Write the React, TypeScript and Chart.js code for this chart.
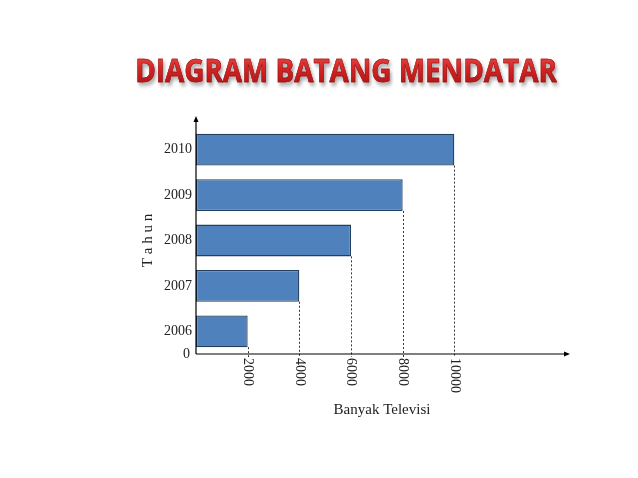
import { useEffect, useRef } from 'react';
import { Chart, registerables } from 'chart.js';

Chart.register(...registerables);

// ---- data ----
const years = ['2006', '2007', '2008', '2009', '2010'];
const televisions = [2000, 4000, 6000, 8000, 10000];
const xTickValues = [2000, 4000, 6000, 8000, 10000];
const originLabel = '0';
const xAxisMax = 14400;
const chartTitle = 'DIAGRAM BATANG MENDATAR';
const xTitle = 'Banyak Televisi';
const yTitle = 'T a h u n';

const SERIF = '"Liberation Serif", "DejaVu Serif", serif';

const decorPlugin = {
  id: 'decor',
  afterDatasetsDraw(chart: any) {
    const { ctx, chartArea } = chart;
    const xScale = chart.scales.x;
    const left = chartArea.left;
    const bottom = chartArea.bottom;
    ctx.save();

    // dashed guides from bar ends down to the axis
    const meta = chart.getDatasetMeta(0);
    ctx.strokeStyle = '#333';
    ctx.lineWidth = 1;
    ctx.setLineDash([2, 2]);
    meta.data.forEach((bar: any) => {
      const x = Math.round(bar.x) + 0.5;
      ctx.beginPath();
      ctx.moveTo(x, bar.y + bar.height / 2);
      ctx.lineTo(x, bottom + 3);
      ctx.stroke();
    });
    ctx.setLineDash([]);

    // axes with arrowheads
    ctx.strokeStyle = '#000';
    ctx.fillStyle = '#000';
    ctx.lineWidth = 1.2;
    const topY = chartArea.top - 11;
    const rightX = chartArea.right + 2;
    ctx.beginPath();
    ctx.moveTo(left, bottom);
    ctx.lineTo(left, topY + 4);
    ctx.moveTo(left, bottom);
    ctx.lineTo(rightX - 4, bottom);
    ctx.stroke();
    ctx.beginPath();
    ctx.moveTo(left, topY);
    ctx.lineTo(left - 2.5, topY + 6);
    ctx.lineTo(left + 2.5, topY + 6);
    ctx.closePath();
    ctx.fill();
    ctx.beginPath();
    ctx.moveTo(rightX, bottom);
    ctx.lineTo(rightX - 6, bottom - 2.5);
    ctx.lineTo(rightX - 6, bottom + 2.5);
    ctx.closePath();
    ctx.fill();

    // rotated x tick labels (reading top to bottom)
    ctx.fillStyle = '#222';
    ctx.font = `14px ${SERIF}`;
    ctx.textAlign = 'left';
    ctx.textBaseline = 'middle';
    xScale.ticks.forEach((t: any) => {
      const px = xScale.getPixelForValue(t.value);
      ctx.save();
      ctx.translate(px, bottom + 4);
      ctx.rotate(Math.PI / 2);
      ctx.fillText(String(t.value), 0, 0);
      ctx.restore();
    });

    // origin label
    ctx.textAlign = 'right';
    ctx.textBaseline = 'middle';
    ctx.fillText(originLabel, left - 6, bottom);
    ctx.restore();
  },
};

export default function App() {
  const canvasRef = useRef<HTMLCanvasElement | null>(null);

  useEffect(() => {
    if (!canvasRef.current) return;
    const chart = new Chart(canvasRef.current, {
      type: 'bar',
      data: {
        labels: years,
        datasets: [
          {
            data: televisions,
            backgroundColor: '#4f81bd',
            borderColor: '#24405f',
            borderWidth: 1.3,
            borderSkipped: false,
            barPercentage: 0.7,
            categoryPercentage: 1,
          },
        ],
      },
      options: {
        indexAxis: 'y',
        responsive: false,
        animation: false,
        devicePixelRatio: 1,
        layout: { padding: { left: 138, top: 127, right: 70, bottom: 54 } },
        plugins: {
          legend: { display: false },
          tooltip: { enabled: false },
          title: { display: false },
        },
        scales: {
          x: {
            type: 'linear',
            min: 0,
            max: xAxisMax,
            grid: { display: false },
            border: { display: false },
            ticks: { display: false },
            afterBuildTicks: (scale: any) => {
              scale.ticks = xTickValues.map((v) => ({ value: v }));
            },
            afterFit: (scale: any) => {
              scale.height = 70;
            },
            title: {
              display: true,
              text: xTitle,
              color: '#222',
              font: { family: SERIF, size: 15 },
              padding: { top: 0, bottom: 5 },
            },
          },
          y: {
            type: 'category',
            reverse: true,
            grid: { display: false, drawTicks: false },
            border: { display: false },
            ticks: {
              color: '#222',
              font: { family: SERIF, size: 14 },
              padding: 4,
            },
            afterFit: (scale: any) => {
              scale.width = 58;
            },
            title: {
              display: true,
              text: yTitle,
              color: '#222',
              font: { family: SERIF, size: 15 },
              padding: { top: 1, bottom: 0 },
            },
          },
        },
      },
      plugins: [decorPlugin],
    });
    return () => chart.destroy();
  }, []);

  return (
    <div
      style={{
        position: 'fixed',
        left: 0,
        top: 0,
        width: 638,
        height: 478,
        background: '#fff',
        overflow: 'hidden',
      }}
    >
      <canvas ref={canvasRef} width={638} height={478} style={{ position: 'absolute', left: 0, top: 0 }} />
      <div
        style={{
          position: 'absolute',
          left: 346,
          top: 54,
          transform: 'translateX(-50%) scaleX(0.87)',
          filter: 'drop-shadow(2px 3px 2px rgba(0,0,0,0.35))',
        }}
      >
        <div
          style={{
            whiteSpace: 'nowrap',
            fontFamily: '"Open Sans", "Noto Sans", sans-serif',
            fontWeight: 700,
            fontSize: 32,
            lineHeight: 1,
            color: 'transparent',
            background: 'linear-gradient(180deg, #ea4a4a 0%, #d42424 45%, #b01414 100%)',
            WebkitBackgroundClip: 'text',
            backgroundClip: 'text',
            WebkitTextStroke: '0.5px #8c0a0a',
          }}
        >
          {chartTitle}
        </div>
      </div>
    </div>
  );
}
